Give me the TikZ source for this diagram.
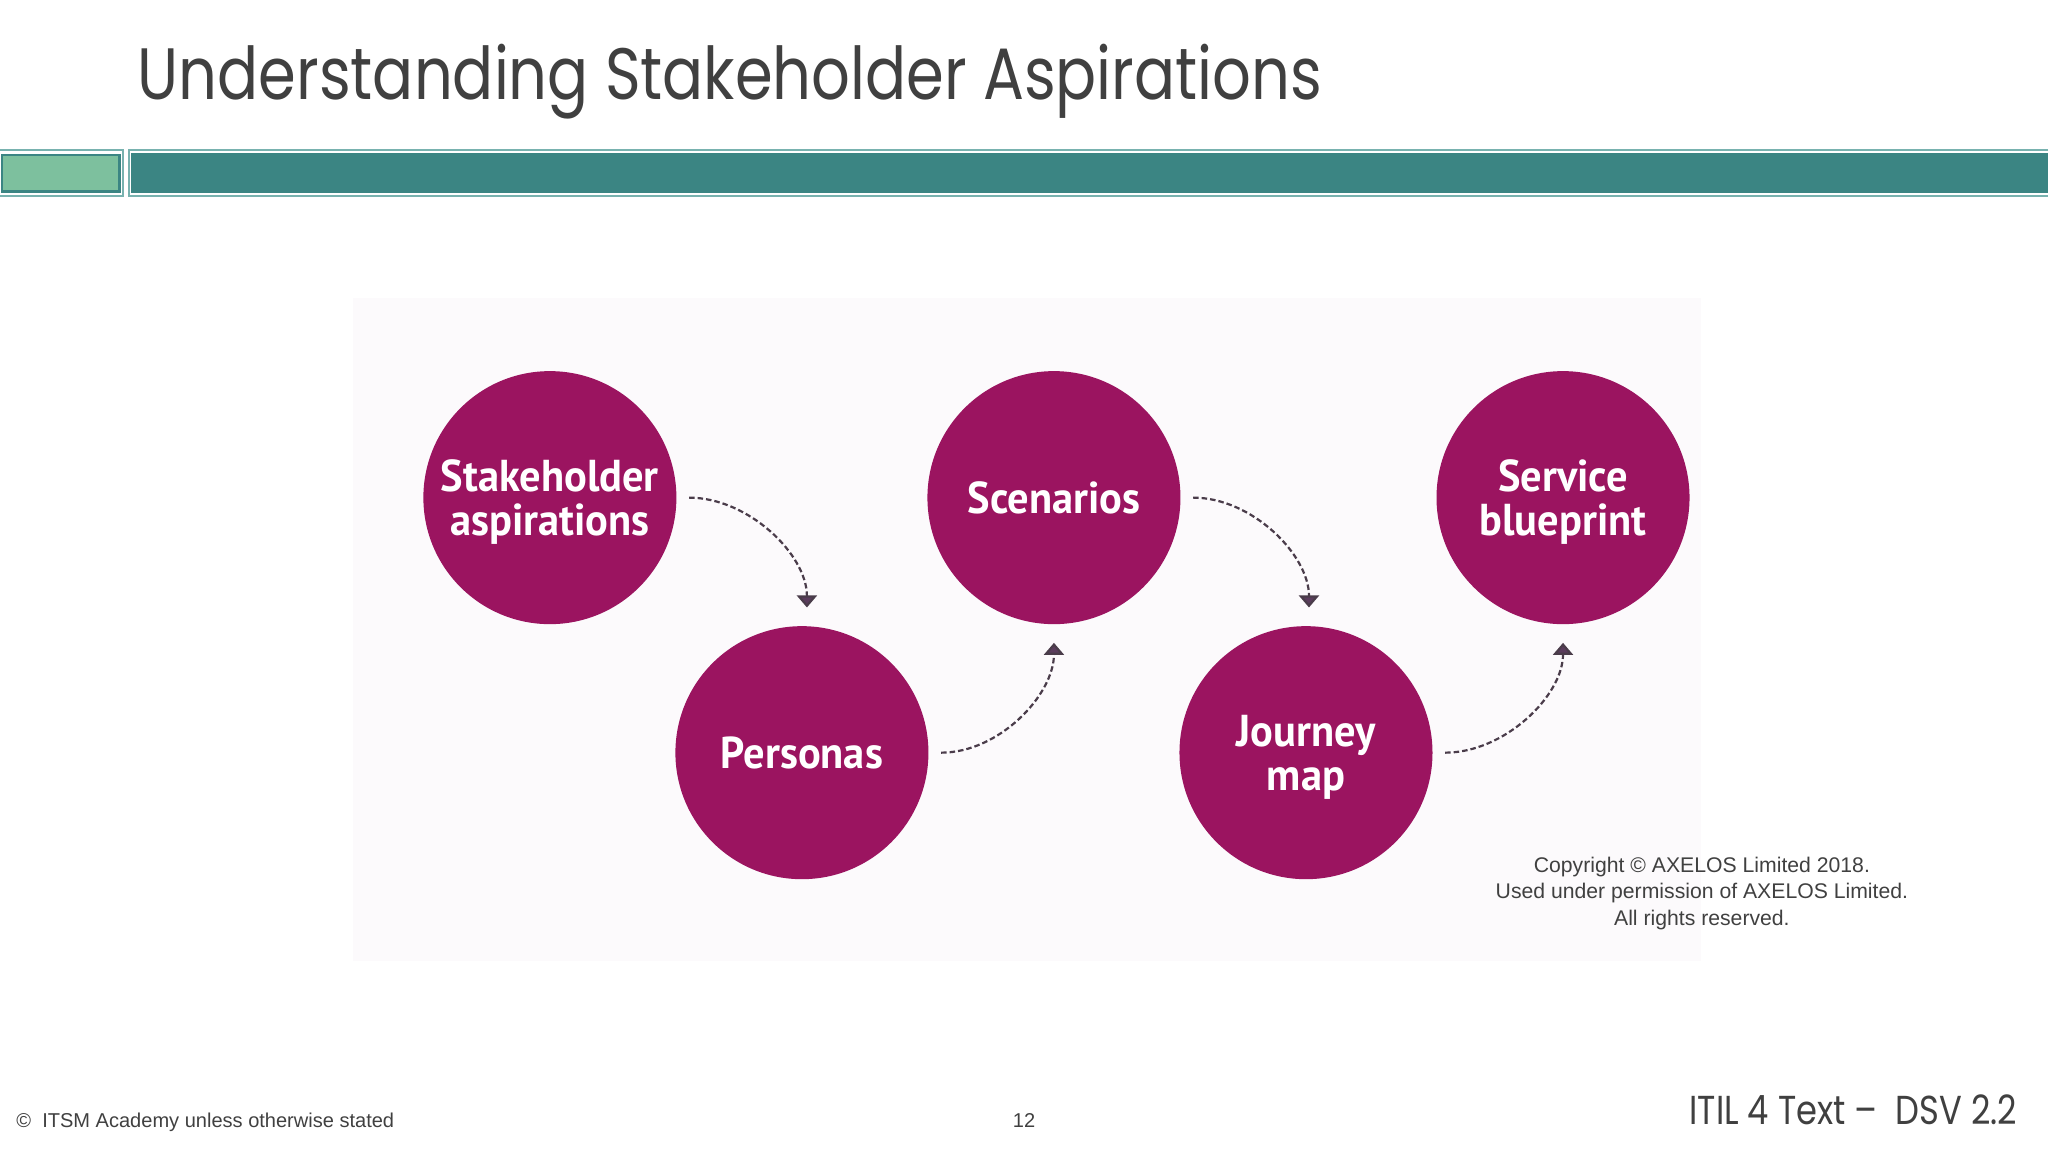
\documentclass[tikz,border=0pt]{standalone}
\usepackage{fontspec}
\setmainfont{Liberation Sans}
\newfontfamily\titlefont[FakeStretch=0.835]{Poppins}
\newfontfamily\stagefont[FakeStretch=0.95]{PT Sans}
\usetikzlibrary{positioning, arrows.meta}
\definecolor{plum}{RGB}{155,20,96}
\definecolor{barteal}{RGB}{59,133,131}
\definecolor{barmint}{RGB}{125,192,158}
\definecolor{barline}{RGB}{120,178,175}
\definecolor{inkgray}{RGB}{64,64,64}
\definecolor{panel}{RGB}{252,250,252}
\definecolor{arrowink}{RGB}{74,60,74}
\definecolor{tipink}{RGB}{90,60,92}
\tikzstyle{stage} = [circle, fill=plum, minimum size=25.3mm, inner sep=0pt, text depth=0pt,
text=white, align=center, font=\stagefont\bfseries\fontsize{12.7}{12.6}\selectfont]
\tikzstyle{flow} = [draw=arrowink, line width=0.22mm, dash pattern=on 0.55mm off 0.3mm,
-{Triangle[width=2mm,length=1.2mm,fill=tipink]}, shorten <=1.2mm, shorten >=1.8mm]
\tikzstyle{plain} = [inner sep=0pt, text=inkgray]

\begin{document}
\begin{tikzpicture}[x=0.1306mm, y=-0.1306mm, node distance=25.5mm and 25.2mm, on grid]
\useasboundingbox (0,0) rectangle (1568,882);
% header bar
\fill[barline] (98,114) rectangle (1568,151);
\fill[white] (99.5,115.5) rectangle (1568,149.5);
\fill[barteal] (100,117.5) rectangle (1568,147.5);
\fill[barline] (0,114) rectangle (95,151);
\fill[white] (0,115.5) rectangle (93.5,149.5);
\filldraw[fill=barmint, draw=barteal, line width=0.25mm] (1.5,118.5) rectangle (91.5,146.5);
\node (title) [plain, anchor=base west, font=\titlefont\fontsize{20.7}{24}\selectfont] at (105,76) {Understanding Stakeholder Aspirations};
% picture panel
\fill[panel] (270,228) rectangle (1302,736);
%Calling the circles
\node (stake) [stage] at (421,381) {Stakeholder\\aspirations};
\node (pers) [stage, below right=of stake] {Personas};
\node (scen) [stage, above right=of pers] {Scenarios};
\node (jour) [stage, below right=of scen] {Journey\\map};
\node (serv) [stage, above right=of jour, xshift=0.5mm] {Service\\blueprint};
% Drawing the arrows between circles
\draw[flow] (stake.east) to[out=0, in=90] ([xshift=0.5mm]pers.north);
\draw[flow] (pers.east) to[out=0, in=-90] (scen.south);
\draw[flow] (scen.east) to[out=0, in=90] ([xshift=0.3mm]jour.north);
\draw[flow] (jour.east) to[out=0, in=-90] (serv.south);
\node (copy) [plain, align=center, font=\fontsize{6.03}{7.6}\selectfont] at (1303,684) {Copyright \textcopyright{} AXELOS Limited 2018.\\Used under permission of AXELOS Limited.\\All rights reserved.};
% footer
\node (foot) [plain, anchor=base west, font=\fontsize{5.7}{6.5}\selectfont] at (12,863) {\textcopyright\ \ ITSM Academy unless otherwise stated};
\node (page) [plain, anchor=base, font=\fontsize{5.7}{6.5}\selectfont] at (784,863) {12};
\node (ver) [plain, anchor=base west, font=\titlefont\fontsize{11.5}{13}\selectfont] at (1293,861) {ITIL 4 Text \textendash\ \ DSV 2.2};
\end{tikzpicture}
\end{document}
